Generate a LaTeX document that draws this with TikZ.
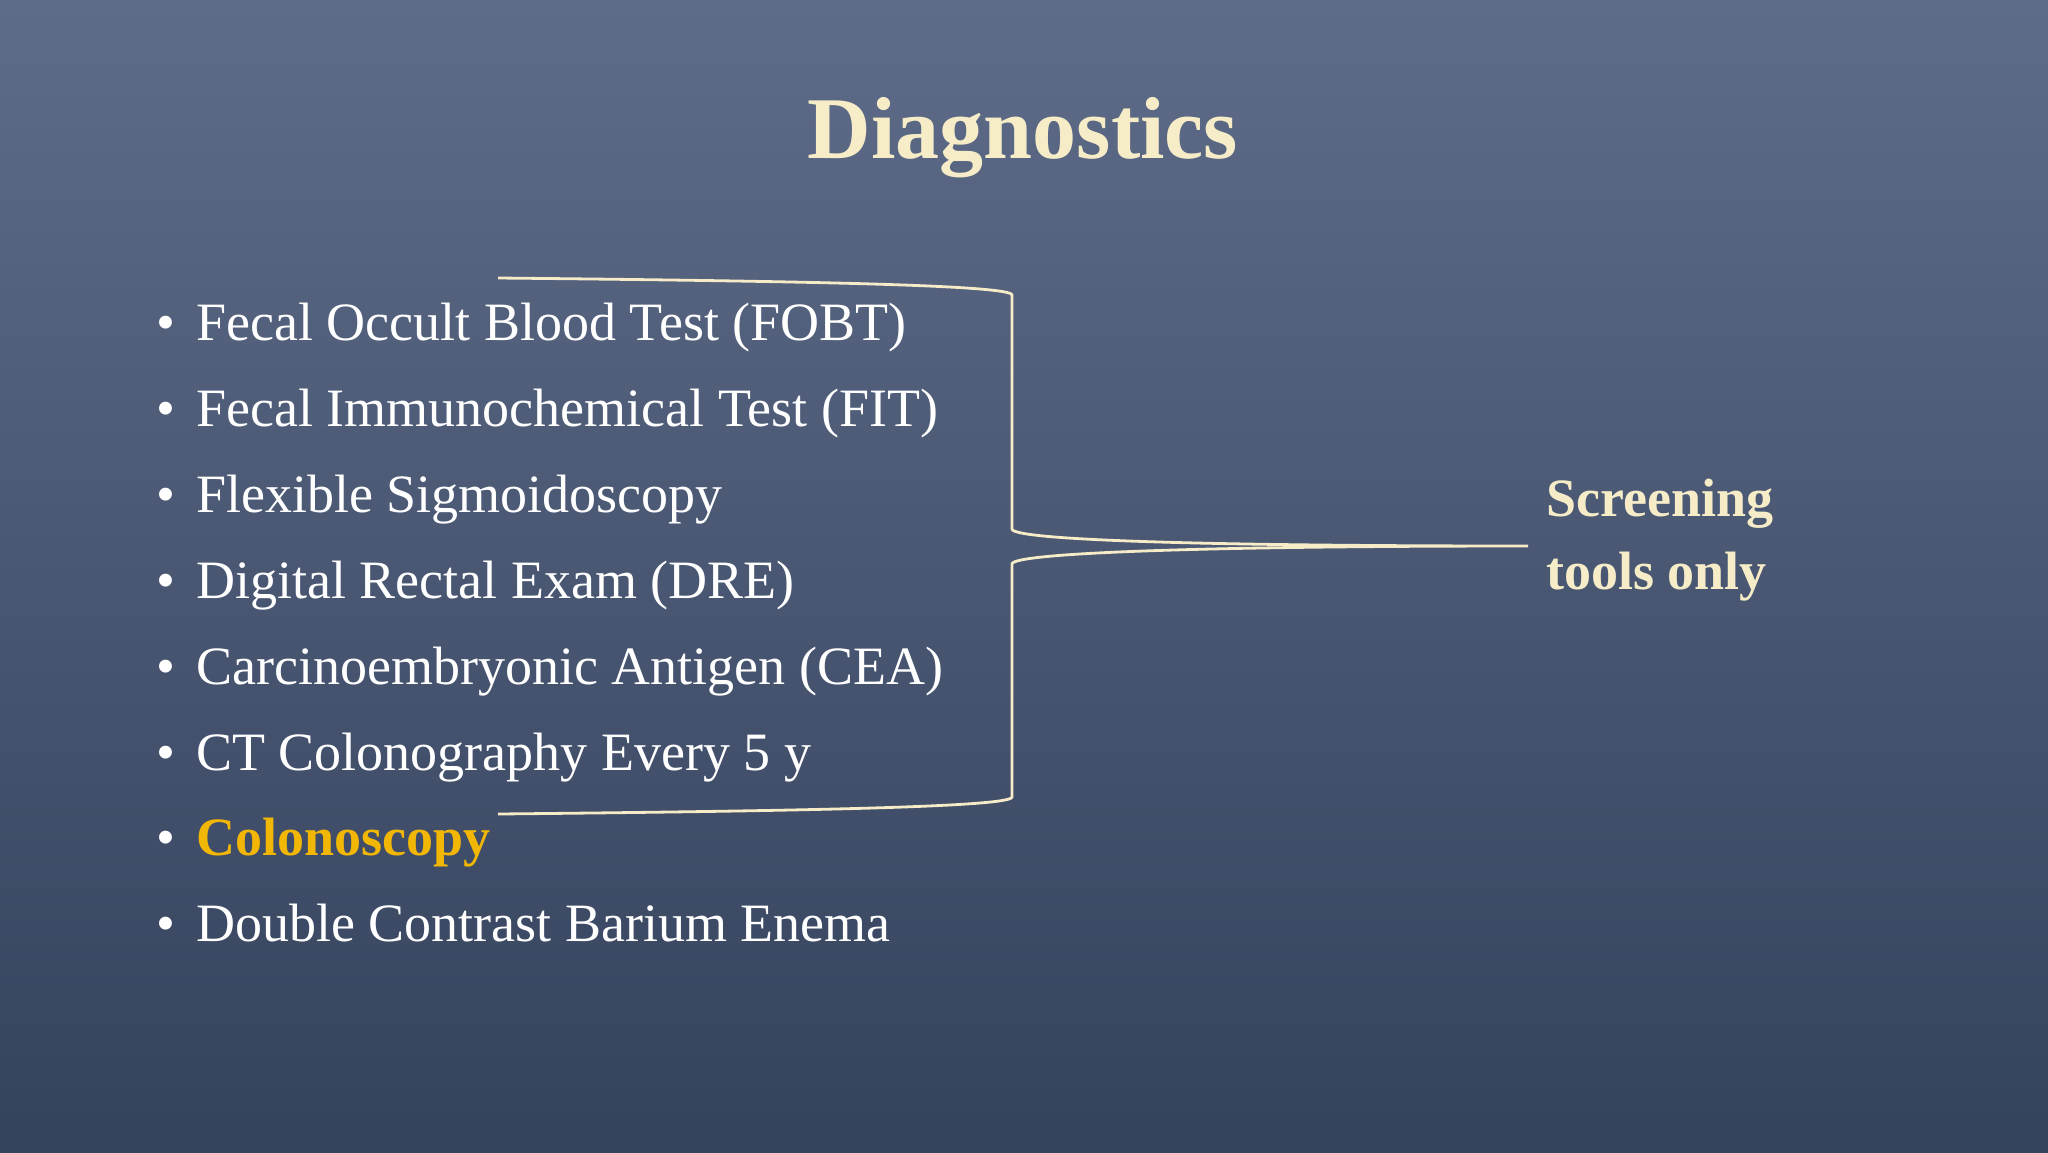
\documentclass[tikz,border=0pt]{standalone}
\usepackage{fontspec}
\setmainfont{Liberation Serif}
\definecolor{bgtop}{HTML}{5E6C89}
\definecolor{bgbot}{HTML}{35425C}
\definecolor{cream}{HTML}{F6EDC8}
\definecolor{gold}{HTML}{F2B705}
\begin{document}
\begin{tikzpicture}[x=0.5pt,y=-0.5pt,
  item/.style={anchor=base west,text=white,font=\fontsize{27}{30}\selectfont,inner sep=0},
  bul/.style={anchor=base,text=white,font=\fontsize{27}{30}\selectfont,inner sep=0},
  brace/.style={draw=cream,line width=1.4pt}]
\shade[top color=bgtop,bottom color=bgbot] (0,0) rectangle (2048,1152);
\useasboundingbox (0,0) rectangle (2048,1152);
\node[text=cream,font=\fontsize{44}{48}\selectfont\bfseries] (title) at (1023,138) {Diagnostics};
\foreach \t/\y/\c [count=\i] in {Fecal Occult Blood Test (FOBT)/340/white,Fecal Immunochemical Test (FIT)/426/white,Flexible Sigmoidoscopy/512/white,Digital Rectal Exam (DRE)/598/white,Carcinoembryonic Antigen (CEA)/684/white,CT Colonography Every 5 y/770/white,Colonoscopy/855/gold,Double Contrast Barium Enema/941/white}{
  \node[bul] (b\i) at (166,\y) {•};
  \node[item,text=\c] (it\i) at (196,\y) {\ifnum\i=7\bfseries\fi\t};
}
\coordinate (t0) at (498,278);
\coordinate (tc) at (1012,295);
\coordinate (mc1) at (1012,529);
\coordinate (tip) at (1528,546);
\coordinate (mc2) at (1012,564);
\coordinate (bc) at (1012,797);
\coordinate (b0) at (498,814);
\draw[brace] (t0) .. controls (800,281) and (1012,285) .. (tc) -- (mc1)
  .. controls (1012,540) and (1200,546) .. (tip)
  .. controls (1200,546) and (1012,553) .. (mc2) -- (bc)
  .. controls (1012,807) and (800,811) .. (b0);
\node[anchor=base west,text=cream,font=\fontsize{27}{30}\selectfont\bfseries,inner sep=0,align=left] (scr) at (1546,516) {Screening};
\node[anchor=base west,text=cream,font=\fontsize{27}{30}\selectfont\bfseries,inner sep=0] (tools) at (1546,589) {tools only};
\end{tikzpicture}
\end{document}
